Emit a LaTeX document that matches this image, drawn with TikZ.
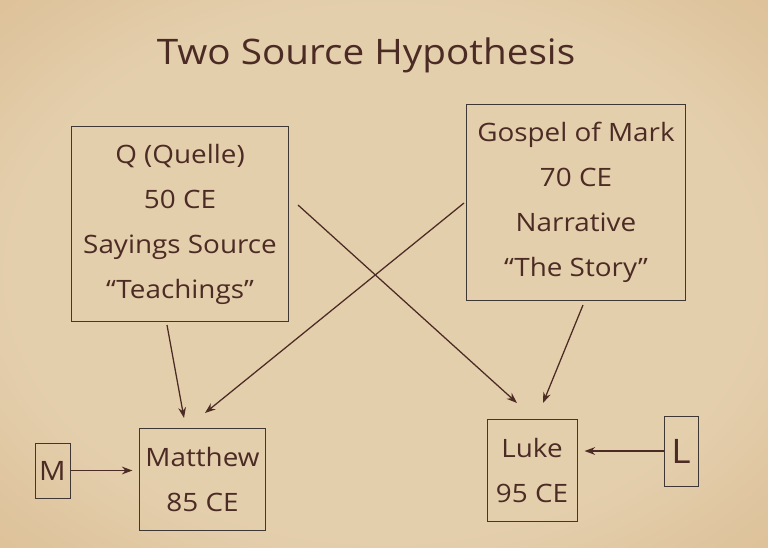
\documentclass[tikz,border=0pt]{standalone}
\usepackage{fontspec}
\setmainfont{Open Sans}[FakeStretch=1.1]
\usetikzlibrary{arrows.meta}

\definecolor{ink}{HTML}{4B2B24}
\definecolor{boxline}{HTML}{3E3733}
\definecolor{paperin}{HTML}{E4CFAD}
\definecolor{paperout}{HTML}{D4B080}

\pgfdeclareradialshading{parchment}{\pgfpoint{0bp}{0bp}}{color(0bp)=(paperin); color(24bp)=(paperin); color(50bp)=(paperout); color(70bp)=(paperout)}

\tikzset{
  source/.style={rectangle, draw=boxline, line width=0.7pt, inner sep=0pt,
    text=ink, align=center, font=\fontsize{18}{32}\selectfont},
  link/.style={draw=ink, line width=0.9pt, -{Stealth[length=7.5pt,width=5.5pt]}}
}

\begin{document}
\begin{tikzpicture}[x=0.025cm, y=-0.025cm]
\useasboundingbox (0,0) rectangle (768,547);
\shade[shading=parchment] (0,0) rectangle (768,547);

\node (title) at (366,55) [text=ink, font=\fontsize{25}{30}\selectfont] {Two Source Hypothesis};

\node (Q) at (180,224) [source, minimum width=5.4cm, minimum height=4.85cm]
  {Q (Quelle)\\50 CE\\Sayings Source\\“Teachings”};
\node (Mark) at (576,202.5) [source, minimum width=5.45cm, minimum height=4.875cm]
  {Gospel of Mark\\70 CE\\Narrative\\“The Story”};

\node (Matthew) at (202.5,479) [source, minimum width=3.125cm, minimum height=2.55cm]
  {Matthew\\85 CE};
\node (Luke) at (532,470) [source, minimum width=2.25cm, minimum height=2.55cm]
  {Luke\\95 CE};

\node (M) at (52.5,470.5) [source, minimum width=0.875cm, minimum height=1.375cm,
  font=\fontsize{19}{24}\selectfont] {M};
\node (L) at (681,451) [source, minimum width=0.85cm, minimum height=1.75cm,
  font=\fontsize{24}{30}\selectfont] {L};

% arrow ends
\coordinate (qm-tail) at (167,325);
\coordinate (qm-head) at (184,418);
\coordinate (mm-tail) at (464,203);
\coordinate (mm-head) at (205,413);
\coordinate (ql-tail) at (298,205);
\coordinate (ql-head) at (517,403);
\coordinate (ml-tail) at (583,305);
\coordinate (ml-head) at (543,403);

\draw[link] (qm-tail) -- (qm-head);
\draw[link] (mm-tail) -- (mm-head);
\draw[link] (ql-tail) -- (ql-head);
\draw[link] (ml-tail) -- (ml-head);

\draw[link, shorten >=5pt] (M.east) -- (M.east -| Matthew.west);
\draw[link, shorten >=5pt] (L.west) -- (L.west -| Luke.east);
\end{tikzpicture}
\end{document}
